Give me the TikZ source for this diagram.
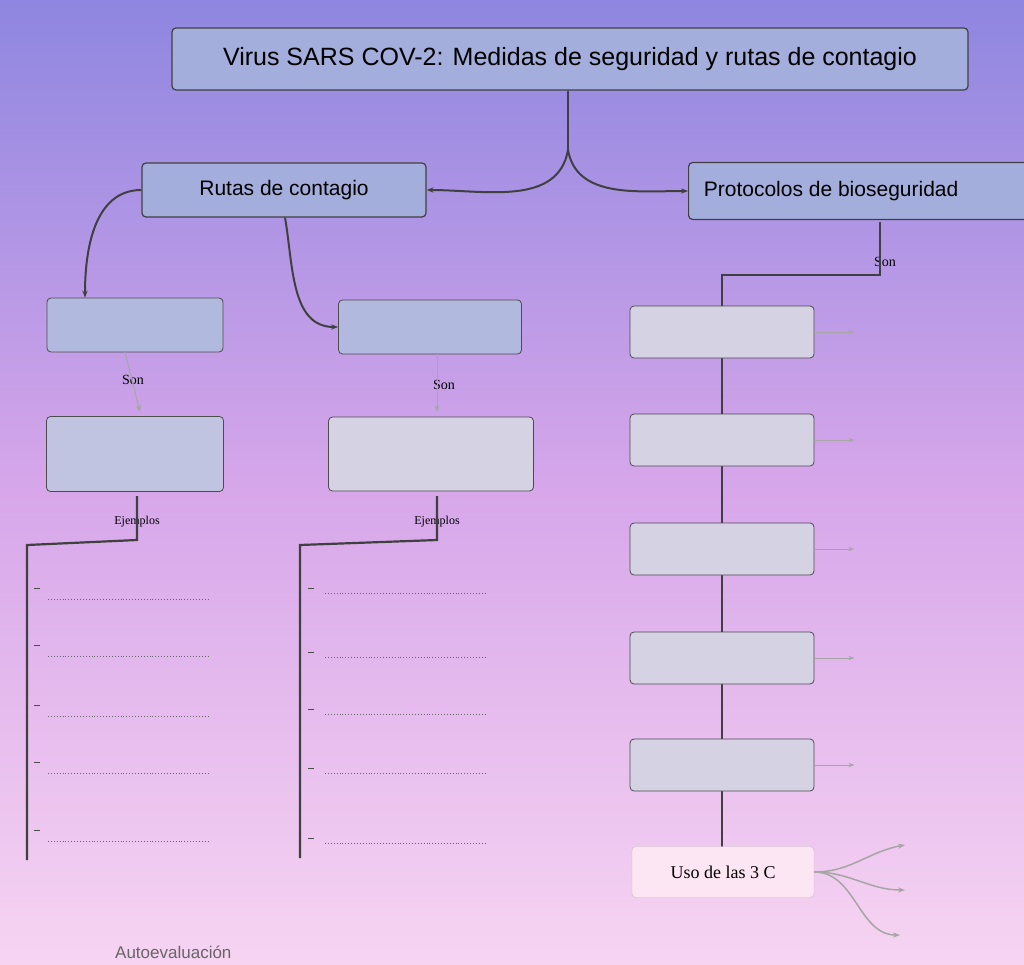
\documentclass[tikz,border=0pt]{standalone}
\usepackage{fontspec}
\setsansfont{Liberation Sans}
\setmainfont{Liberation Serif}
\usetikzlibrary{arrows.meta}
\definecolor{bgtop}{HTML}{8E86E0}
\definecolor{bgmid}{HTML}{D6A6EA}
\definecolor{bgbot}{HTML}{F7D4F2}
\definecolor{bfill}{HTML}{A3AEDC}
\definecolor{efill}{HTML}{D5D2E4}
\begin{document}
\begin{tikzpicture}[x=1pt,y=-1pt,
 box/.style={draw=black!75,line width=1.2pt,rounded corners=4pt,fill=bfill},
 ebox/.style={draw=gray!60!black,line width=0.8pt,rounded corners=4pt,fill=efill},
 ln/.style={draw=black!75,line width=2pt},
 thin/.style={draw=gray!70,line width=1pt},
 ar/.style={-{Stealth[length=7pt]}},
 lab/.style={font=\fontsize{14}{16}\selectfont}]
\useasboundingbox (0,0) rectangle (1024,965);
\clip (0,0) rectangle (1024,965);
\shade[top color=bgtop, bottom color=bgbot, middle color=bgmid] (0,0) rectangle (1024,965);
% title
\node[box,minimum width=796pt,minimum height=62pt,font=\sffamily\fontsize{25}{28}\selectfont] (t) at (570,59) {Virus SARS COV-2: Medidas de seguridad y rutas de contagio};
\node[box,minimum width=284pt,minimum height=54pt,font=\sffamily\fontsize{21}{24}\selectfont] (r) at (284,190) {Rutas de contagio};
\node[box,minimum width=345pt,minimum height=57pt,font=\sffamily\fontsize{21}{24}\selectfont,anchor=west] (p) at (688,191) {\hspace*{-60pt}Protocolos de bioseguridad};
\coordinate (j) at (568,150);
\draw[ln] (t.south -| j) -- (j);
\draw[ln,ar] (j) to[out=-100,in=0] (r.east);
\draw[ln,ar] (j) to[out=-80,in=180] (p.west);
% left column
\node[ebox,fill=bfill!70!efill,minimum width=176pt,minimum height=54pt] (l1) at (135,325) {};
\node[ebox,fill=bfill!70!efill,minimum width=183pt,minimum height=54pt] (m1) at (430,327) {};
\draw[ln,ar] (r.west) to[out=180,in=90] (l1.north -| 85,0);
\draw[ln,ar] (r.south -| 285,0) to[out=-80,in=180] (m1.west);
\node[ebox,fill=bfill!40!efill,minimum width=177pt,minimum height=75pt] (l2) at (135,454) {};
\node[ebox,minimum width=205pt,minimum height=74pt] (m2) at (431,454) {};
\node[lab] (s1) at (133,380) {Son};
\node[lab] (s2) at (444,385) {Son};
\draw[thin,ar] (125,352) -- (140,412);
\draw[thin,ar] (437,354) -- (437,412);
\node[font=\fontsize{12}{14}\selectfont] (e1) at (137,522) {Ejemplos};
\node[font=\fontsize{12}{14}\selectfont] (e2) at (437,522) {Ejemplos};
\draw[ln,line width=2.2pt] (137,496) -- (137,540) -- (27,545) -- (27,860);
\draw[ln,line width=2.2pt] (437,496) -- (437,540) -- (300,545) -- (300,858);
\foreach \y in {593,650,710,767,835}{
 \draw[black!70,line width=0.8pt] (34,\y-5) -- (40,\y-5);
 \draw[black!60,dotted,line width=0.9pt] (48,\y+6) -- (210,\y+6);}
\foreach \y in {593,657,714,773,843}{
 \draw[black!70,line width=0.8pt] (308,\y-5) -- (314,\y-5);
 \draw[black!60,dotted,line width=0.9pt] (325,\y) -- (485,\y);}
% right column
\node[lab] (s3) at (885,262) {Son};
\draw[ln] (880,222) -- (880,275) -- (722,275) -- (722,850);
\foreach \y [count=\i] in {332,440,549,658,765}{
 \node[ebox,minimum width=184pt,minimum height=52pt] (b\i) at (722,\y) {};
 \draw[thin,-{Stealth[length=6pt]}] (b\i.east) -- ++(40,0);}
\node[draw=gray!50,rounded corners=4pt,fill=white!90!magenta,minimum width=182pt,minimum height=51pt,font=\fontsize{18}{22}\selectfont] (u) at (723,872) {Uso de las 3 C};
\coordinate (u1) at (905,845);
\coordinate (u2) at (905,890);
\coordinate (u3) at (900,935);
\draw[thin,line width=1.5pt,ar] (u.east) to[out=0,in=190] (u1);
\draw[thin,line width=1.5pt,ar] (u.east) to[out=0,in=180] (u2);
\draw[thin,line width=1.5pt,ar] (u.east) to[out=0,in=180] (u3);
\node[font=\sffamily\fontsize{17}{20}\selectfont,text=black!60,anchor=base west,inner sep=0pt] (a) at (115,958) {Autoevaluación};
\end{tikzpicture}
\end{document}
